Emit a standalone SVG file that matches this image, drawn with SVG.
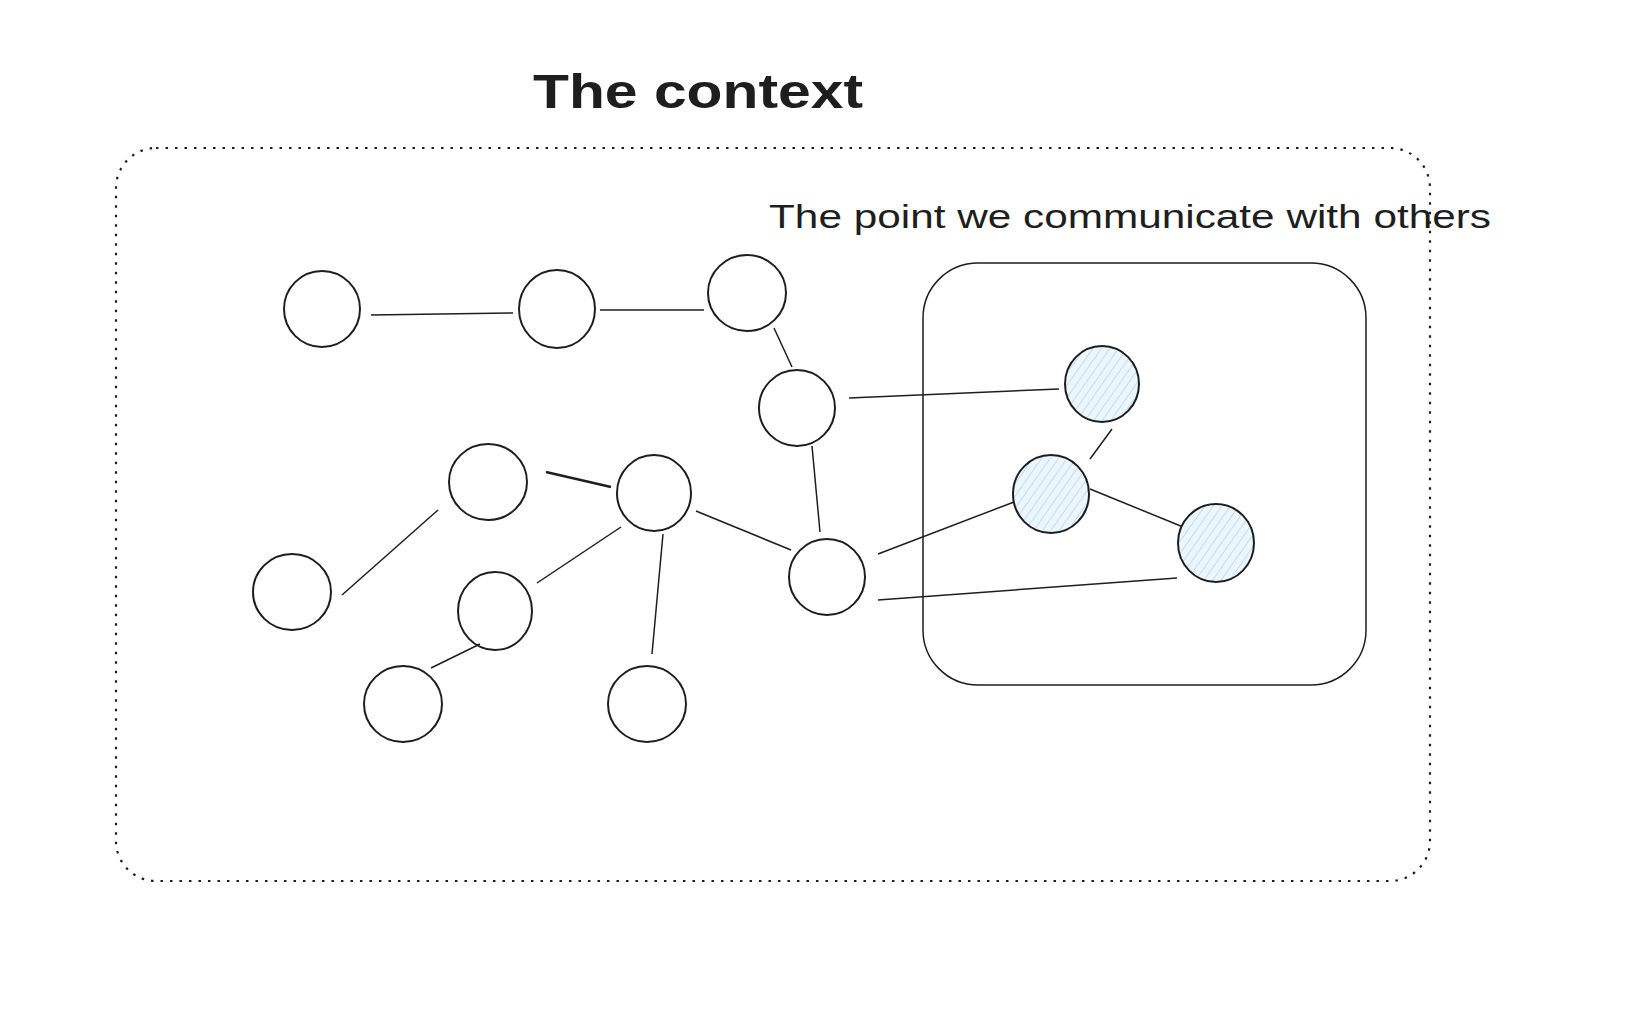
<svg xmlns="http://www.w3.org/2000/svg" width="1634" height="1014" viewBox="0 0 1634 1014">
<style>
.t{font-family:"Liberation Sans","DejaVu Sans",sans-serif;fill:#1e1e1e}
.n{fill:none;stroke:#1e1e1e;stroke-width:2}
.b{fill:url(#h);stroke:#1e1e1e;stroke-width:2}
#edges line{stroke:#1e1e1e;stroke-width:1.5}
</style>
<defs>
<pattern id="h" width="7" height="7" patternUnits="userSpaceOnUse" patternTransform="rotate(35)">
<rect width="7" height="7" fill="#eef6fd"/>
<line x1="0" y1="0" x2="0" y2="7" stroke="#a5d8ff" stroke-width="1.5"/>
</pattern>
</defs>
<rect width="1634" height="1014" fill="#fff"/>
<g transform="translate(-4,-2)">
<text class="t" x="537" y="110" font-size="48" font-weight="bold" textLength="330" lengthAdjust="spacingAndGlyphs">The context</text>
<rect x="120" y="150" width="1314" height="733" rx="40" fill="none" stroke="#1e1e1e" stroke-width="2.2" stroke-dasharray="2.5 7"/>
<text class="t" x="773" y="230" font-size="33" textLength="722" lengthAdjust="spacingAndGlyphs">The point we communicate with others</text>
<rect id="boundary" x="927" y="265" width="443" height="422" rx="55" fill="none" stroke="#1e1e1e" stroke-width="1.5"/>
<g id="edges">
<line x1="375" y1="317" x2="517" y2="315"/>
<line x1="604" y1="312" x2="708" y2="312"/>
<line x1="778" y1="330" x2="796" y2="369"/>
<line x1="853" y1="400" x2="1063" y2="391"/>
<line x1="816" y1="448" x2="824" y2="534"/>
<line x1="1116" y1="431" x2="1094" y2="461"/>
<line x1="1094" y1="491" x2="1197" y2="533"/>
<line x1="1018" y1="504" x2="882" y2="556"/>
<line x1="1181" y1="580" x2="882" y2="602"/>
<line x1="550" y1="474" x2="615" y2="489" style="stroke-width:2.5"/>
<line x1="442" y1="512" x2="346" y2="597"/>
<line x1="625" y1="529" x2="541" y2="585"/>
<line x1="700" y1="513" x2="795" y2="552"/>
<line x1="667" y1="536" x2="656" y2="656"/>
<line x1="484" y1="646" x2="435" y2="670"/>
</g>
<g id="A"><ellipse class="n" cx="326" cy="311" rx="38" ry="38"/></g>
<g id="B"><ellipse class="n" cx="561" cy="311" rx="38" ry="39"/></g>
<g id="C"><ellipse class="n" cx="751" cy="295" rx="39" ry="38"/></g>
<g id="D"><ellipse class="n" cx="801" cy="410" rx="38" ry="38"/></g>
<g id="E"><ellipse class="b" cx="1106" cy="386" rx="37" ry="38"/></g>
<g id="F"><ellipse class="n" cx="492" cy="484" rx="39" ry="38"/></g>
<g id="G"><ellipse class="n" cx="658" cy="495" rx="37" ry="38"/></g>
<g id="H"><ellipse class="b" cx="1055" cy="496" rx="38" ry="39"/></g>
<g id="I"><ellipse class="b" cx="1220" cy="545" rx="38" ry="39"/></g>
<g id="J"><ellipse class="n" cx="296" cy="594" rx="39" ry="38"/></g>
<g id="K"><ellipse class="n" cx="499" cy="613" rx="37" ry="39"/></g>
<g id="L"><ellipse class="n" cx="831" cy="579" rx="38" ry="38"/></g>
<g id="M"><ellipse class="n" cx="407" cy="706" rx="39" ry="38"/></g>
<g id="N"><ellipse class="n" cx="651" cy="706" rx="39" ry="38"/></g>
</g>
</svg>
